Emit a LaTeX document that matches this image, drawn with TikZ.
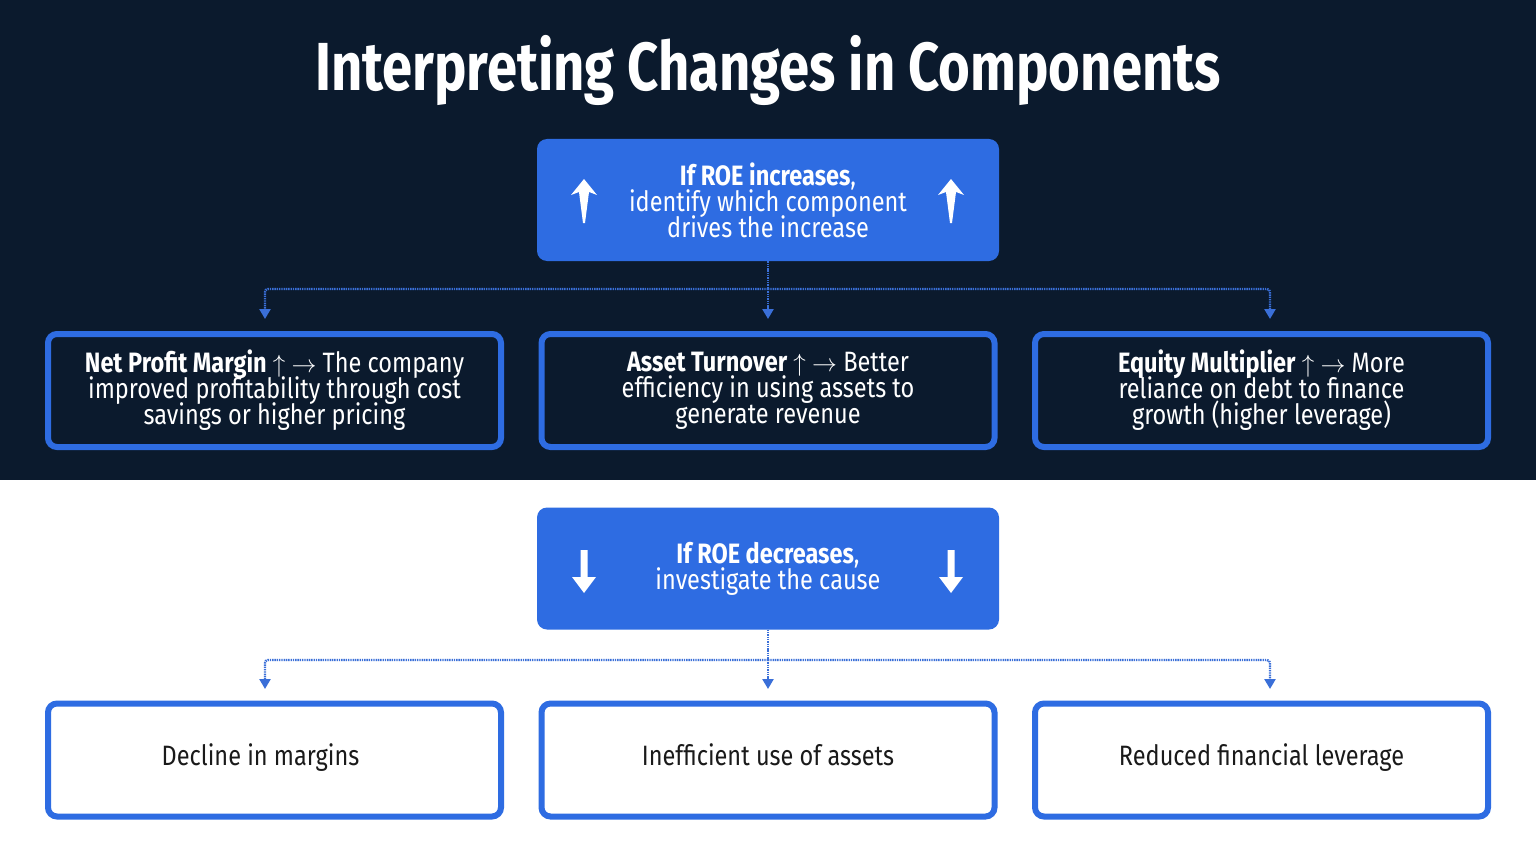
\documentclass[tikz,border=0pt]{standalone}
\usepackage{fontspec}
\setmainfont{Fira Sans}[FakeStretch=0.84]
\newfontfamily\titlefont{Fira Sans}[FakeStretch=0.8]
\usetikzlibrary{arrows.meta}
\definecolor{bgdark}{HTML}{0B1A2D}
\definecolor{roeblue}{HTML}{2E6CE2}
\definecolor{connblue}{HTML}{3A6FD8}
\definecolor{ink}{HTML}{1A1A1A}
\newcommand{\bodyfont}{\fontsize{28}{26}\selectfont\lineskiplimit=-100pt\lineskip=0pt}
\newcommand{\updown}{~$\uparrow$ $\rightarrow$ }
\begin{document}
\begin{tikzpicture}[x=1pt,y=-1pt,
  conn/.style={draw=connblue, line width=2.4pt, dash pattern=on 1.4pt off 0.9pt, rounded corners=3pt},
  tipped/.style={-{Triangle[width=11pt,length=10pt]}},
  roebox/.style={fill=roeblue, rounded corners=10pt, minimum width=462pt, minimum height=122pt, text=white, align=center, font=\bodyfont, inner sep=0pt},
  darkbox/.style={draw=roeblue, line width=6pt, fill=bgdark, rounded corners=9pt, minimum width=453pt, minimum height=113pt, text=white, align=center, font=\bodyfont, inner sep=0pt},
  lightbox/.style={darkbox, fill=white, text=ink, text height=19pt, text depth=8pt},
  whitearrow/.style={fill=white, draw=none}
]
\useasboundingbox (0,0) rectangle (1536,864);
\fill[bgdark] (0,0) rectangle (1536,480);
\fill[white] (0,480) rectangle (1536,864);

\node[text=white, font=\titlefont\bfseries\fontsize{68}{70}\selectfont] (title) at (768,70) {Interpreting Changes in Components};

% top ROE box
\node[roebox] (up) at (768,200) {\textbf{If ROE increases},\\identify which component\\drives the increase};
\fill[whitearrow] (584,179) -- (597,195) -- (589,192) -- (585,223) -- (583,223) -- (579,192) -- (571,195) -- cycle;
\fill[whitearrow] (951,179) -- (964,195) -- (956,192) -- (952,223) -- (950,223) -- (946,192) -- (938,195) -- cycle;

\node[darkbox] (p1) at (274.5,390.5) {\textbf{Net Profit Margin}\updown The company\\improved profitability through cost\\savings or higher pricing};
\node[darkbox] (p2) at (768,390.5) {\textbf{Asset Turnover}\updown Better\\efficiency in using assets to\\generate revenue};
\node[darkbox] (p3) at (1261.5,390.5) {\textbf{Equity Multiplier}\updown More\\reliance on debt to finance\\growth (higher leverage)};

\coordinate (j1) at (768,289);
\coordinate (u1) at (265,319);
\coordinate (u2) at (768,319);
\coordinate (u3) at (1270,319);
\draw[conn] (up.south) -- (j1);
\draw[conn,tipped] (j1) -| (u1);
\draw[conn,tipped] (j1) -- (u2);
\draw[conn,tipped] (j1) -| (u3);

% bottom ROE box
\node[roebox] (down) at (768,568.5) {\textbf{If ROE decreases},\\investigate the cause};
\fill[whitearrow] (580.5,550) -- (587.5,550) -- (587.5,577) -- (596,577) -- (584,593) -- (572,577) -- (580.5,577) -- cycle;
\fill[whitearrow] (947.5,550) -- (954.5,550) -- (954.5,577) -- (963,577) -- (951,593) -- (939,577) -- (947.5,577) -- cycle;

\node[lightbox] (n1) at (274.5,760) {Decline in margins\hspace*{28pt}};
\node[lightbox] (n2) at (768,760) {Inefficient use of assets};
\node[lightbox] (n3) at (1261.5,760) {Reduced financial leverage};

\coordinate (j2) at (768,660);
\coordinate (d1) at (265,689);
\coordinate (d2) at (768,689);
\coordinate (d3) at (1270,689);
\draw[conn] (down.south) -- (j2);
\draw[conn,tipped] (j2) -| (d1);
\draw[conn,tipped] (j2) -- (d2);
\draw[conn,tipped] (j2) -| (d3);
\end{tikzpicture}
\end{document}
